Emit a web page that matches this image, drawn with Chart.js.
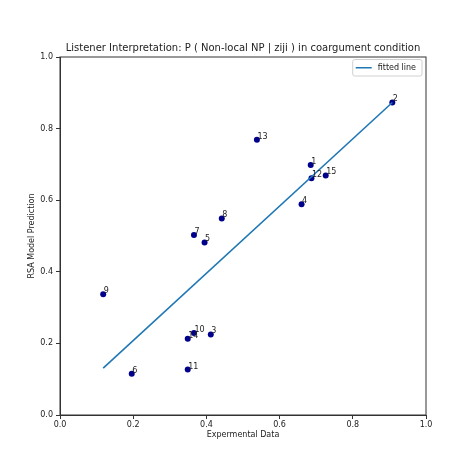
<!DOCTYPE html>
<html>
<head>
<meta charset="utf-8">
<script src="https://cdn.jsdelivr.net/npm/chart.js@4/dist/chart.umd.min.js"></script>
<style>
  html, body { margin: 0; padding: 0; background: #fff; }
  canvas { display: block; }
</style>
</head>
<body>
<canvas id="chart" width="474" height="474"></canvas>
<script>
// Item ids, experimental data (x) and RSA model prediction (y)
const itemIds = ['1', '2', '3', '4', '5', '6', '7', '8', '9', '10', '11', '12', '13', '14', '15'];
const expData = [0.685, 0.908, 0.412, 0.660, 0.395, 0.196, 0.366, 0.442, 0.118, 0.366, 0.349, 0.687, 0.538, 0.349, 0.726];
const modelPred = [0.698, 0.873, 0.225, 0.589, 0.482, 0.115, 0.503, 0.549, 0.337, 0.229, 0.127, 0.661, 0.769, 0.213, 0.669];

// Fitted line end points
const fitX = [0.118, 0.908];
const fitY = [0.131, 0.873];

const tickValues = [0, 0.2, 0.4, 0.6, 0.8, 1.0];

const chartTitle = 'Listener Interpretation: P ( Non-local NP | ziji ) in coargument condition';
const textColor = '#222';
const fontFamily = '"DejaVu Sans", sans-serif';

// Frame on all four sides and title centred over the plot area
const framePlugin = {
    id: 'frame',
    afterDraw(chart) {
        const { ctx, chartArea: a } = chart;
        ctx.save();
        ctx.strokeStyle = '#333';
        ctx.lineWidth = 1;
        ctx.strokeRect(a.left, a.top, a.right - a.left, a.bottom - a.top);
        ctx.fillStyle = textColor;
        ctx.font = '10px ' + fontFamily;
        ctx.textAlign = 'center';
        ctx.textBaseline = 'middle';
        ctx.fillText(chartTitle, (a.left + a.right) / 2, a.top - 8.5);
        ctx.restore();
    }
};

// Write the item id next to every point
const pointLabels = {
    id: 'pointLabels',
    afterDatasetsDraw(chart) {
        const ctx = chart.ctx;
        const meta = chart.getDatasetMeta(1);
        ctx.save();
        ctx.fillStyle = textColor;
        ctx.font = '8px ' + fontFamily;
        ctx.textAlign = 'left';
        ctx.textBaseline = 'alphabetic';
        meta.data.forEach((el, i) => {
            ctx.fillText(itemIds[i], el.x + 0.5, el.y - 1);
        });
        ctx.restore();
    }
};

// Legend box in the upper right corner of the plot
const insideLegend = {
    id: 'insideLegend',
    afterDraw(chart) {
        const { ctx, chartArea: a } = chart;
        const ds = chart.data.datasets[0];
        ctx.save();
        ctx.font = '8px ' + fontFamily;
        const tw = ctx.measureText(ds.label).width;
        const w = tw + 31, h = 16.5;
        const x = a.right - 4 - w, y = a.top + 2.5;
        ctx.fillStyle = 'rgba(255,255,255,0.8)';
        ctx.strokeStyle = '#d0d0d0';
        ctx.lineWidth = 1;
        ctx.beginPath();
        ctx.roundRect(x, y, w, h, 2);
        ctx.fill();
        ctx.stroke();
        ctx.strokeStyle = ds.borderColor;
        ctx.lineWidth = 1.5;
        ctx.beginPath();
        ctx.moveTo(x + 3, y + h / 2);
        ctx.lineTo(x + 19, y + h / 2);
        ctx.stroke();
        ctx.fillStyle = textColor;
        ctx.textBaseline = 'middle';
        ctx.fillText(ds.label, x + 25, y + h / 2);
        ctx.restore();
    }
};

const ctx = document.getElementById('chart').getContext('2d');
new Chart(ctx, {
    type: 'scatter',
    data: {
        datasets: [
            {
                label: 'fitted line',
                data: fitX.map((x, i) => ({ x: x, y: fitY[i] })),
                showLine: true,
                borderColor: '#1f77b4',
                borderWidth: 1.6,
                pointRadius: 0,
                fill: false
            },
            {
                label: 'items',
                data: expData.map((x, i) => ({ x: x, y: modelPred[i] })),
                backgroundColor: '#00008b',
                borderColor: '#00008b',
                pointRadius: 3,
                pointBorderWidth: 0
            }
        ]
    },
    options: {
        responsive: false,
        animation: false,
        devicePixelRatio: 1,
        layout: { padding: { left: 0, right: 48, top: 57, bottom: 0 } },
        plugins: {
            legend: { display: false },
            tooltip: { enabled: false },
            title: { display: false }
        },
        scales: {
            x: {
                type: 'linear',
                min: 0,
                max: 1,
                afterBuildTicks(scale) { scale.ticks = tickValues.map(v => ({ value: v })); },
                afterFit(scale) { scale.height = 59; },
                ticks: {
                    color: textColor,
                    font: { family: fontFamily, size: 8 },
                    padding: 1,
                    maxRotation: 0,
                    callback: v => v.toFixed(1)
                },
                grid: { drawOnChartArea: false, drawTicks: true, tickLength: 4, color: '#333' },
                border: { color: '#333' },
                title: {
                    display: true,
                    text: 'Expermental Data',
                    color: textColor,
                    font: { family: fontFamily, size: 8 },
                    padding: { top: 2, bottom: 34 }
                }
            },
            y: {
                type: 'linear',
                min: 0,
                max: 1,
                afterBuildTicks(scale) { scale.ticks = tickValues.map(v => ({ value: v })); },
                afterFit(scale) { scale.width = 60; },
                ticks: {
                    color: textColor,
                    font: { family: fontFamily, size: 8 },
                    padding: 3,
                    callback: v => v.toFixed(1)
                },
                grid: { drawOnChartArea: false, drawTicks: true, tickLength: 4, color: '#333' },
                border: { color: '#333' },
                title: {
                    display: true,
                    text: 'RSA Model Prediction',
                    color: textColor,
                    font: { family: fontFamily, size: 8 },
                    padding: { top: 27, bottom: 4 }
                }
            }
        }
    },
    plugins: [framePlugin, pointLabels, insideLegend]
});
</script>
</body>
</html>
